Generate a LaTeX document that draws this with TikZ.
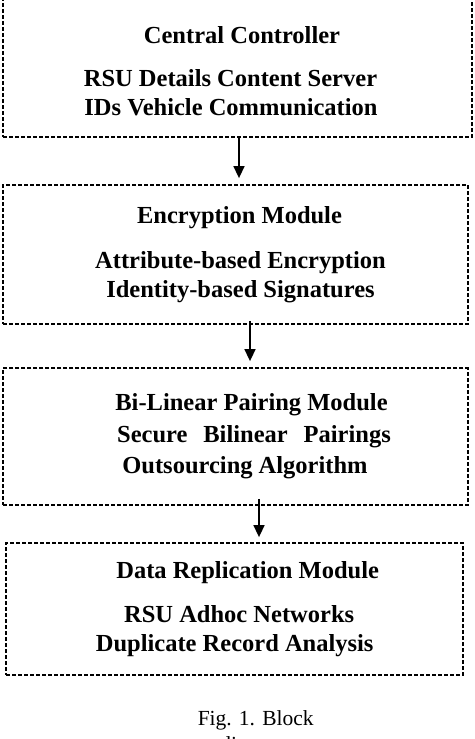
\documentclass[tikz,border=0pt]{standalone}
\usepackage{fontspec}
\setmainfont{Liberation Serif}
\usetikzlibrary{positioning,arrows.meta}

\begin{document}
\begin{tikzpicture}
            [x=1pt, y=-1pt,
            module/.style={draw=black, line width=1.8pt, dash pattern=on 4pt off 2pt,
            align=center, inner sep=0pt,
            font=\fontsize{24.5}{29}\selectfont\bfseries},
            flow/.style={draw=black, line width=1.5pt, -{Triangle[width=11pt,length=12pt]}},
            caption/.style={align=center, inner sep=0pt,
            font=\fontsize{21.5}{26}\selectfont}]
            \useasboundingbox (0,0) rectangle (474,739);
            \node[module, minimum width=469pt, minimum height=141pt] (ctrl) at (237.5,66.5)
                {\rule{0pt}{27pt}\hspace*{9pt}Central Controller\\[14pt]
                \hspace*{-14pt}RSU Details Content Server\\
                \hspace*{-13pt}IDs Vehicle Communication};
            \node[module, minimum width=465pt, minimum height=139pt] (enc) at (235.5,254.5)
                {\hspace*{8pt}Encryption Module\\[16pt]
                \hspace*{10pt}Attribute-based Encryption\\
                \hspace*{10pt}Identity-based Signatures};
            \node[module, minimum width=464.5pt, minimum height=137pt] (pair) at (235.5,436.5)
                {\hspace*{32pt}Bi-Linear Pairing Module\\[2.5pt]
                \hspace*{37pt}Secure\hspace{0.4em} Bilinear\hspace{0.4em} Pairings\\[2.5pt]
                \hspace*{19pt}Outsourcing Algorithm};
            \node[module, minimum width=457pt, minimum height=132pt] (data) at (234.7,609)
                {\hspace*{26pt}Data Replication Module\\[15pt]
                \hspace*{9pt}RSU Adhoc Networks\\
                Duplicate Record Analysis};
            \node[caption, below=34pt of data, xshift=21pt] (cap) {Fig. 1. Block\\diagram};
            \draw[flow] ([xshift=1.5pt]ctrl.south) -- ([xshift=3.5pt,yshift=6pt]enc.north);
            \draw[flow] ([xshift=14.5pt,yshift=4pt]enc.south) -- ([xshift=14.5pt,yshift=6pt]pair.north);
            \draw[flow] ([xshift=23.5pt,yshift=7pt]pair.south) -- ([xshift=24.3pt,yshift=5pt]data.north);
\end{tikzpicture}
\end{document}
